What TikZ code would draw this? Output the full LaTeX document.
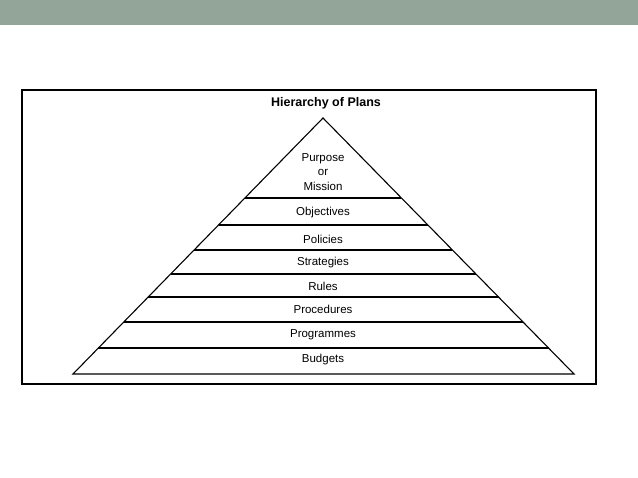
\documentclass[tikz,border=0pt]{standalone}
\usepackage{fontspec}
\setmainfont{Liberation Sans}
\definecolor{band}{HTML}{93A498}
\begin{document}
\begin{tikzpicture}[x=1pt,y=-1pt,
  lab/.style={font=\fontsize{11.5}{13}\selectfont,inner sep=0pt},
  ln/.style={line width=1.1pt}]
\useasboundingbox (0,0) rectangle (638,478);
\fill[white] (0,0) rectangle (638,478);
\fill[band] (0,0) rectangle (638,25);
\draw[line width=1.4pt] (22,90) rectangle (596,384);
\node[font=\bfseries\fontsize{12.5}{14}\selectfont] (title) at (326,103) {Hierarchy of Plans};
\coordinate (apex) at (323,118);
\coordinate (bl) at (73,374);
\coordinate (br) at (574,374);
\draw[ln] (bl) -- (apex) -- (br) -- cycle;
\foreach \y in {198,225,250,274,297,322,348}{
  \pgfmathsetmacro{\xl}{323-(\y-118)/256*250}
  \pgfmathsetmacro{\xr}{323+(\y-118)/256*251}
  \draw[ln] (\xl,\y) -- (\xr,\y);
}
\node[lab] (p1) at (323,159) {Purpose};
\node[lab] (p2) at (323,172.5) {or};
\node[lab] (p3) at (323,186) {Mission};
\node[lab] (o) at (323,213) {Objectives};
\node[lab] (po) at (323,239) {Policies};
\node[lab] (s) at (323,263) {Strategies};
\node[lab] (r) at (323,286) {Rules};
\node[lab] (pr) at (323,309) {Procedures};
\node[lab] (pg) at (323,335) {Programmes};
\node[lab] (b) at (323,360) {Budgets};
\end{tikzpicture}
\end{document}
